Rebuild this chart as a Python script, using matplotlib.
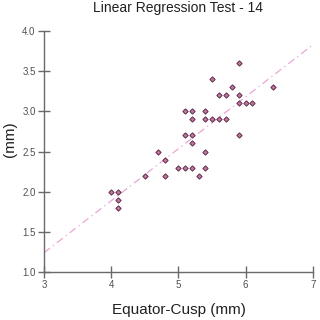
import matplotlib
matplotlib.use('Agg')
import matplotlib.pyplot as plt
import numpy as np

plt.rcParams['font.family'] = ['Liberation Sans', 'DejaVu Sans']

# data
equatorCusp = [4.0, 4.1, 4.1, 4.1, 4.5, 4.7, 4.8, 4.8, 5.0, 5.1, 5.2, 5.4,
               5.3, 5.4, 5.2, 5.1, 5.2, 5.9, 5.2, 5.4, 5.5, 5.6, 5.7, 5.1,
               5.2, 5.4, 5.9, 6.0, 6.1, 5.6, 5.7, 5.9, 5.8, 6.4, 5.5, 5.9]
otherMeasure = [2.0, 2.0, 1.9, 1.8, 2.2, 2.5, 2.4, 2.2, 2.3, 2.3, 2.3, 2.3,
                2.2, 2.5, 2.6, 2.7, 2.7, 2.7, 2.9, 2.9, 2.9, 2.9, 2.9, 3.0,
                3.0, 3.0, 3.1, 3.1, 3.1, 3.2, 3.2, 3.2, 3.3, 3.3, 3.4, 3.6]
fitEnds = [3.0, 7.0]
fitValues = [1.24, 3.83]

xTicks = [3, 4, 5, 6, 7]
yTicks = [1.0, 1.5, 2.0, 2.5, 3.0, 3.5, 4.0]

fig = plt.figure(figsize=(3.2, 3.2), dpi=100)
ax = fig.add_axes([0.1375, 0.15, 0.8406, 0.753])

#### regression line ####
ax.plot(fitEnds, fitValues, color='#eaa6d6', linewidth=0.9,
        linestyle=(0, (6, 3, 1, 3)))

#### scatter points ####
ax.plot(equatorCusp, otherMeasure, linestyle='none', marker='D',
        markersize=2.7, markerfacecolor='#c27a9c', markeredgecolor='#5e2c4c',
        markeredgewidth=0.7)

ax.set_xlim(3, 7)
ax.set_ylim(1.0, 4.0)
ax.set_xticks(xTicks)
ax.set_yticks(yTicks)
ax.set_xticklabels([str(i) for i in xTicks])
ax.set_yticklabels(['{:.1f}'.format(i) for i in yTicks])

for side in ['top', 'right']:
    ax.spines[side].set_visible(False)
for side in ['left', 'bottom']:
    ax.spines[side].set_color('#6a6a6a')
    ax.spines[side].set_linewidth(1.0)

ax.tick_params(direction='inout', length=8, width=1.0, color='#6a6a6a',
               labelsize=7, labelcolor='#505050', pad=2)

ax.set_title('Linear Regression Test - 14', fontsize=10, color='#202020', pad=14)
ax.set_xlabel('Equator-Cusp (mm)', fontsize=11, color='#202020', labelpad=9)
fig.text(0.03, 0.565, '(mm)', rotation=90, fontsize=11, color='#202020',
         ha='center', va='center')

fig.savefig('out.png', dpi=100)
